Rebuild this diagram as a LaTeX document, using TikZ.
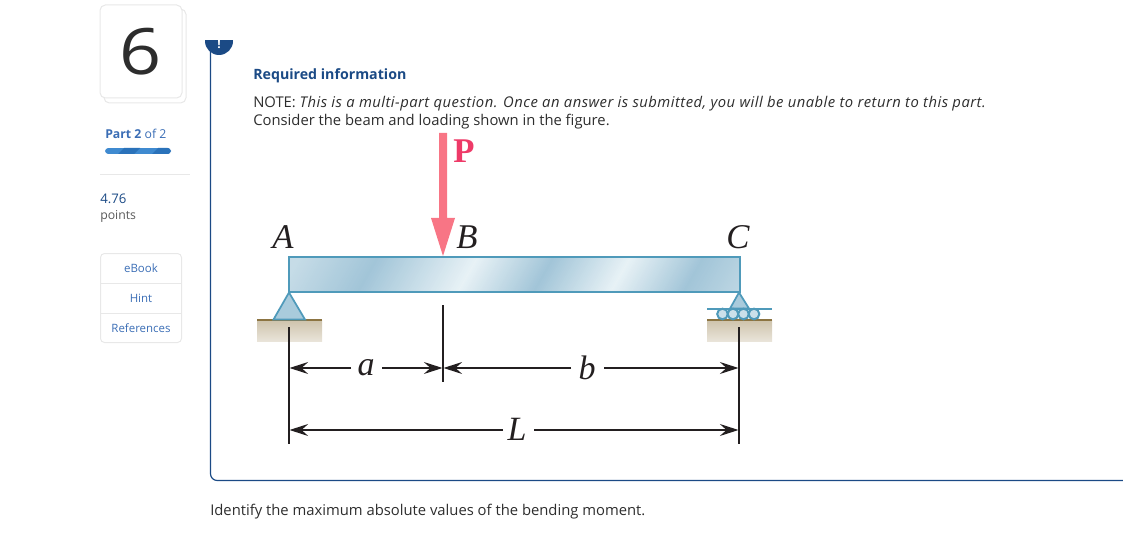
\documentclass[tikz,border=0pt]{standalone}
\usepackage{fontspec}
\setmainfont{Open Sans}
\newfontfamily\serifit{Liberation Serif}
\usetikzlibrary{arrows.meta}
\definecolor{navy}{HTML}{1B4A85}
\definecolor{linkblue}{HTML}{3A6DB5}
\definecolor{bodytext}{HTML}{2D2D2D}
\definecolor{panel}{HTML}{E8E8E8}
\definecolor{steel}{HTML}{4F9ABA}
\definecolor{steelfill}{HTML}{A9CBDC}
\definecolor{beamdark}{HTML}{A2C5D8}
\definecolor{beammid}{HTML}{C6DCE7}
\definecolor{beamlight}{HTML}{E8F2F6}
\definecolor{forcepink}{HTML}{F87585}
\definecolor{pred}{HTML}{EE3A68}
\definecolor{dimk}{HTML}{231F20}
\definecolor{groundtop}{HTML}{8C7442}
\definecolor{grounda}{HTML}{CEC3AC}
\definecolor{groundb}{HTML}{E9E4D9}
\definecolor{barlight}{HTML}{3F8AD0}
\definecolor{bardark}{HTML}{2A72BA}
\tikzset{
 x=0.75pt,y=-0.75pt,
 side/.style={font=\fontsize{9.2}{11}\selectfont,text=linkblue,inner sep=0pt},
 link/.style={font=\fontsize{8.6}{10}\selectfont,text=linkblue,inner sep=0pt},
 bodyt/.style={font=\fontsize{11.1}{13}\selectfont,text=bodytext,anchor=west,inner sep=0pt},
 letter/.style={font=\serifit\itshape\fontsize{26}{30}\selectfont,text=dimk,inner sep=0pt},
 dimlabel/.style={font=\serifit\itshape\fontsize{25.5}{29}\selectfont,text=dimk,inner sep=0pt},
 tick/.style={draw=dimk,line width=1.1pt},
 dimarrow/.style={draw=dimk,line width=0.9pt,-{Stealth[length=14pt,width=9pt,inset=5pt]}},
 panelline/.style={draw=panel,line width=0.75pt},
 support/.style={draw=steel,fill=steelfill,line width=1.3pt,line join=miter},
 roller/.style={circle,draw=steel,fill=steelfill!60!white,line width=1.5pt,minimum size=8pt,inner sep=0pt},
}
\begin{document}
\begin{tikzpicture}
\useasboundingbox (0,0) rectangle (1123,538);
% question number card
\draw[panelline,rounded corners=4pt,fill=white] (104,9) rectangle (186,103);
\draw[panelline,rounded corners=4pt,fill=white] (100,5) rectangle (182,98);
\node[inner sep=0pt,text=bodytext,font=\fontsize{48}{50}\selectfont,xscale=1.15] (num) at (141,51.5) {6};
\node[side,anchor=west] (part) at (105,134) {\textbf{Part 2} of 2};
\begin{scope}
 \clip[rounded corners=2.5pt] (105,148) rectangle (171,154);
 \fill[barlight] (105,148) rectangle (171,154);
 \fill[bardark] (118,154) -- (124,148) -- (140,148) -- (134,154) -- cycle;
 \fill[bardark] (152,154) -- (158,148) -- (171,148) -- (171,154) -- cycle;
\end{scope}
\draw[panelline] (100,174.5) -- (190,174.5);
\node[font=\fontsize{9.9}{12}\selectfont,text=navy,anchor=west,inner sep=0pt] (score) at (100,198.5) {4.76};
\node[font=\fontsize{9.2}{11}\selectfont,text=black!65,anchor=west,inner sep=0pt] (pts) at (100,216) {points};
% side links
\draw[panelline,rounded corners=3pt] (100.5,253.5) rectangle (181.5,342.5);
\draw[panelline] (100.5,283.5) -- (181.5,283.5);
\draw[panelline] (100.5,313.5) -- (181.5,313.5);
\node[link] (ebook) at (141,268.5) {eBook};
\node[link] (hint) at (141,298.5) {Hint};
\node[link] (refs) at (141,328.5) {References};
% panel frame
\draw[navy,line width=0.9pt,rounded corners=5pt] (210.5,50) -- (210.5,480.5) -- (1123,480.5);
\begin{scope}
 \clip (200,41) rectangle (240,60);
 \fill[navy] (219,41) circle[radius=14];
\end{scope}
\node[text=white,font=\bfseries\fontsize{9}{10}\selectfont,inner sep=0pt] (mark) at (219,44) {!};
\node[bodyt,font=\bfseries\fontsize{10.65}{13}\selectfont,text=navy] (req) at (253,76) {Required information};
\node[bodyt] (note) at (253,104) {NOTE: {\addfontfeatures{LetterSpace=3.2}\textit{This is a multi-part question. Once an answer is submitted, you will be unable to return to this part.}}};
\node[bodyt] (consider) at (253,122) {Consider the beam and loading shown in the figure.};
\node[bodyt] (identify) at (210,512) {Identify the maximum absolute values of the bending moment.};
% beam: slanted colour bands, each overpainting the rest of the beam to its right
\begin{scope}
 \clip (289,257) rectangle (740,292);
 \foreach \xa/\xb/\ca/\cb in {
   270/289/beammid/beammid,
   289/367/beammid/beamdark,
   367/467/beamdark/beamlight,
   467/543/beamlight/beamdark,
   543/620/beamdark/beamlight,
   620/693/beamlight/beamdark,
   693/765/beamdark/beammid}{
  \foreach \t in {0,...,40}{
   \pgfmathsetmacro{\xx}{\xa+(\xb-\xa)*\t/40}
   \pgfmathsetmacro{\pc}{100*\t/40}
   \fill[\cb!\pc!\ca] (\xx+10,257) -- (\xx-10,292) -- (800,292) -- (800,257) -- cycle;
  }
 }
\end{scope}
\draw[steel,line width=1.4pt] (289,257) rectangle (740,292);
\coordinate (ptA) at (289,292.5);
\coordinate (ptC) at (739,292.5);
% ground
\shade[top color=grounda,bottom color=groundb] (257,320) rectangle (322,341);
\draw[groundtop,line width=1.1pt] (257,320) -- (322,320);
\shade[top color=grounda,bottom color=groundb] (707,320) rectangle (772,341);
\draw[groundtop,line width=1.1pt] (707,320) -- (772,320);
% supports
\draw[support] (ptA) -- (273.5,319.5) -- (305,319.5) -- cycle;
\draw[steel,line width=1.5pt] (707,308.5) -- (772,308.5);
\draw[support] (ptC) -- (730,308.5) -- (749,308.5) -- cycle;
\node[roller] (r1) at (722.5,314) {};
\node[roller] (r2) at (733,314) {};
\node[roller] (r3) at (743.5,314) {};
\node[roller] (r4) at (754,314) {};
% load
\fill[forcepink] (439,133) -- (447,133) -- (447,218) -- (455,218) -- (443,256) -- (431,218) -- (439,218) -- cycle;
\node[font=\serifit\bfseries\fontsize{26}{28}\selectfont,text=pred,inner sep=0pt] (P) at (464,151.5) {P};
% letters
\node[letter] (A) at (283,237) {A};
\node[letter] (B) at (467,237) {B};
\node[letter] (C) at (738,237) {C};
% dimension ticks
\coordinate (ta1) at (289,327);
\coordinate (ta2) at (289,444);
\coordinate (tb1) at (443,305);
\coordinate (tb2) at (443,382);
\coordinate (tc1) at (739,327);
\coordinate (tc2) at (739,444);
\draw[tick] (ta1) -- (ta2);
\draw[tick] (tb1) -- (tb2);
\draw[tick] (tc1) -- (tc2);
% dimension labels
\node[dimlabel] (a) at (366,368) {a};
\node[dimlabel] (b) at (587,368) {b};
\node[dimlabel] (L) at (517,429) {L};
\coordinate (ya) at (289.5,368);
\coordinate (yb) at (442.5,368);
\coordinate (yb2) at (443.5,368);
\coordinate (yc) at (738.5,368);
\coordinate (yla) at (289.5,430);
\coordinate (ylc) at (738.5,430);
\draw[dimarrow] (351,368) -- (ya);
\draw[dimarrow] (382,368) -- (yb);
\draw[dimarrow] (571,368) -- (yb2);
\draw[dimarrow] (604,368) -- (yc);
\draw[dimarrow] (503,430) -- (yla);
\draw[dimarrow] (534,430) -- (ylc);
\end{tikzpicture}
\end{document}
